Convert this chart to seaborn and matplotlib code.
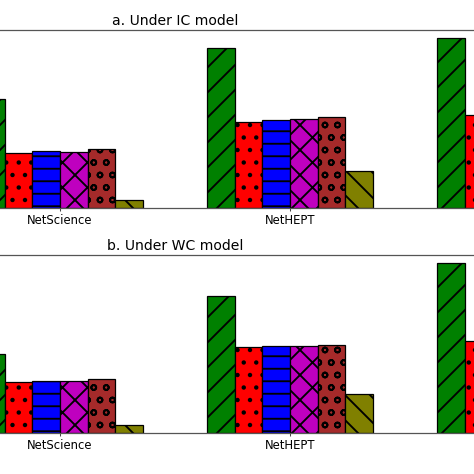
import numpy as np
import pandas as pd
import matplotlib
matplotlib.use("Agg")
import matplotlib.pyplot as plt
import seaborn as sns

# datasets (third group sits mostly off the right edge of the crop)
datasets = ["NetScience", "NetHEPT", "NetPHY"]
methods = ["M1", "M2", "M3", "M4", "M5", "M6"]
colors = ["#008000", "#FF0000", "#0000FF", "#BF00BF", "#A52A2A", "#808000"]
hatches = ["/", ".", "-", "x", "o", "\\"]

# values (same arbitrary unit in both panels, axis top = 178)
# NaN = bar lies outside the visible crop
ic_netscience = [109, 55, 57, 56, 59, 8]
ic_nethept = [160, 86, 88, 89, 91, 37]
ic_netphy = [170, 93, np.nan, np.nan, np.nan, np.nan]

wc_netscience = [79, 51, 52, 52, 54, 8]
wc_nethept = [137, 86, 87, 87, 88, 39]
wc_netphy = [170, 92, np.nan, np.nan, np.nan, np.nan]

panels = [
    ("a. Under IC model", [ic_netscience, ic_nethept, ic_netphy]),
    ("b. Under WC model", [wc_netscience, wc_nethept, wc_netphy]),
]

sns.set_theme(style="white")
plt.rcParams["font.family"] = ["DejaVu Sans"]
plt.rcParams["hatch.linewidth"] = 1.8

fig = plt.figure(figsize=(474 / 75, 474 / 75), dpi=75)
# axes are wider than the figure: the reference is a crop of a bigger chart
positions = [
    [-0.6013, 1 - 208 / 474, 1.9409, 178 / 474],
    [-0.6013, 1 - 433 / 474, 1.9409, 178 / 474],
]

for (title, rows), pos in zip(panels, positions):
    ax = fig.add_axes(pos)
    df = pd.DataFrame(
        [(d, m, v) for d, vals in zip(datasets, rows) for m, v in zip(methods, vals)],
        columns=["dataset", "method", "value"],
    ).dropna()
    sns.barplot(data=df, x="dataset", y="value", hue="method",
                order=datasets, hue_order=methods, palette=colors,
                width=0.72, gap=0, dodge=True, saturation=1,
                edgecolor="black", linewidth=1.2, errorbar=None,
                legend=False, ax=ax)
    for cont, h in zip(ax.containers, hatches):
        for bar in cont:
            bar.set_hatch(h)
    # only the first two group labels fall inside the crop
    ax.set_xticks([0, 1], datasets[:2])
    ax.set_xlim(-1.5, 2.5)
    ax.set_ylim(0, 178)
    ax.set_yticks([])
    ax.set_xlabel("")
    ax.set_ylabel("")
    ax.set_title(title, fontsize=13.4, pad=5, color="black")
    ax.tick_params(axis="x", labelsize=11.2, labelcolor="black", direction="out",
                   length=3, width=1, color="#444444", pad=2.5, bottom=True)
    for s in ax.spines.values():
        s.set_color("#555555")
        s.set_linewidth(1.2)

fig.savefig("out.png", dpi=75)
